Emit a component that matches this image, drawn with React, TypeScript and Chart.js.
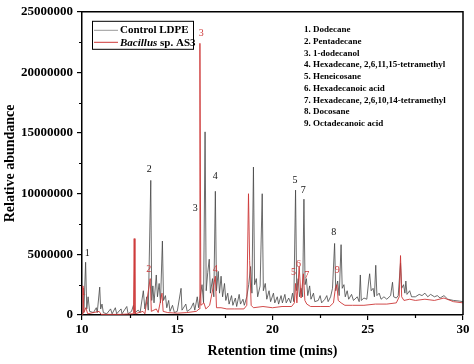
import { useEffect, useRef } from 'react';
import { Chart, registerables } from 'chart.js';

Chart.register(...registerables);

// Control LDPE chromatogram (time in minutes, abundance in millions)
const controlTime = [
  10.0, 10.1, 10.19, 10.25, 10.32, 10.4, 10.6, 10.75, 10.8, 10.93, 10.98, 11.05, 11.12, 11.3, 11.5, 11.58,
  11.75, 11.82, 12.05, 12.1, 12.35, 12.42, 12.6, 12.7, 12.78, 12.95, 13.05, 13.22, 13.3, 13.4, 13.48, 13.61,
  13.66, 13.72, 13.78, 13.9, 13.96, 14.05, 14.12, 14.22, 14.28, 14.38, 14.45, 14.55, 14.62, 14.75, 14.85, 15.0,
  15.2, 15.25, 15.45, 15.52, 15.7, 15.85, 15.92, 16.05, 16.12, 16.3, 16.38, 16.46, 16.52, 16.6, 16.68, 16.74,
  16.85, 16.92, 17.0, 17.06, 17.15, 17.22, 17.3, 17.38, 17.48, 17.55, 17.65, 17.72, 17.85, 17.92, 18.05, 18.12,
  18.25, 18.32, 18.45, 18.52, 18.65, 18.75, 18.85, 18.92, 19.0, 19.06, 19.15, 19.22, 19.35, 19.46, 19.52, 19.62,
  19.7, 19.82, 19.9, 20.05, 20.12, 20.25, 20.32, 20.45, 20.52, 20.65, 20.72, 20.85, 20.95, 21.05, 21.12, 21.21,
  21.27, 21.35, 21.42, 21.5, 21.58, 21.65, 21.71, 21.78, 21.85, 21.95, 22.02, 22.15, 22.22, 22.4, 22.5, 22.58,
  22.75, 22.85, 22.92, 23.05, 23.15, 23.26, 23.32, 23.42, 23.5, 23.6, 23.66, 23.75, 23.82, 23.92, 24.0, 24.15,
  24.25, 24.45, 24.55, 24.61, 24.66, 24.8, 24.95, 25.05, 25.1, 25.18, 25.28, 25.35, 25.42, 25.48, 25.6, 25.7,
  25.85, 26.0, 26.2, 26.3, 26.36, 26.5, 26.6, 26.72, 26.78, 26.88, 26.95, 27.0, 27.06, 27.2, 27.3, 27.5,
  27.7, 27.85, 28.0, 28.15, 28.3, 28.5, 28.65, 28.8, 29.0, 29.2, 29.5, 29.8, 30.0,
];
const controlAbund = [
  0.05, 0.3, 4.35, 0.5, 1.5, 0.3, 0.2, 0.6, 0.2, 2.3, 0.5, 0.9, 0.2, 0.1, 0.5, 0.1,
  0.6, 0.1, 0.5, 0.1, 0.7, 0.1, 0.3, 0.8, 0.2, 0.4, 0.2, 2.0, 0.5, 1.5, 0.4, 11.1,
  1.2, 2.4, 1.0, 3.3, 1.5, 2.6, 1.0, 6.1, 1.2, 1.6, 0.6, 1.2, 0.3, 0.8, 0.2, 0.3,
  2.2, 0.4, 0.9, 0.3, 0.5, 1.0, 0.4, 1.5, 0.6, 2.5, 1.0, 15.1, 2.0, 3.5, 4.6, 1.8,
  3.0, 1.5, 10.2, 2.0, 3.6, 1.8, 3.2, 1.5, 2.6, 1.2, 1.8, 0.9, 1.6, 0.8, 1.4, 0.7,
  1.7, 0.9, 1.3, 0.8, 1.5, 2.5, 4.0, 1.8, 12.2, 2.5, 3.0, 1.5, 2.4, 10.0, 2.0, 2.6,
  1.3, 2.0, 1.1, 1.8, 1.0, 1.5, 0.9, 1.6, 1.0, 1.7, 1.0, 1.4, 1.0, 1.8, 1.1, 10.3,
  2.0, 3.0, 1.5, 2.2, 1.5, 9.55, 2.5, 3.0, 1.6, 2.4, 1.3, 1.8, 1.1, 1.2, 1.6, 1.0,
  1.3, 1.6, 1.1, 1.5, 2.2, 5.9, 2.0, 2.8, 1.6, 5.8, 2.2, 2.5, 1.5, 2.0, 1.3, 1.7,
  1.2, 1.5, 1.1, 3.3, 1.2, 1.4, 1.3, 2.8, 3.4, 2.0, 2.2, 1.5, 4.1, 1.6, 1.8, 1.3,
  1.5, 1.3, 1.6, 2.7, 1.5, 1.4, 1.6, 4.3, 2.2, 2.5, 1.8, 2.8, 1.7, 2.0, 1.5, 1.5,
  1.7, 1.6, 1.8, 1.5, 1.7, 1.5, 1.6, 1.4, 1.6, 1.3, 1.2, 1.15, 1.1,
];

// Bacillus sp. AS3 chromatogram
const bacillusTime = [
  10.0, 10.05, 10.1, 10.2, 10.3, 10.9, 11.0, 12.0, 12.7, 12.74, 12.78, 13.2, 13.3, 13.58, 13.64, 13.9,
  14.0, 14.2, 14.26, 14.5, 15.0, 15.5, 16.0, 16.15, 16.19, 16.24, 16.4, 16.5, 16.7, 17.0, 17.06, 17.3,
  17.6, 18.0, 18.5, 18.65, 18.74, 18.8, 18.88, 19.0, 19.5, 20.0, 20.5, 21.0, 21.15, 21.21, 21.28, 21.4,
  21.5, 21.62, 21.7, 21.8, 22.0, 22.5, 23.0, 23.2, 23.3, 23.38, 23.45, 23.6, 23.8, 24.2, 24.8, 25.4,
  26.0, 26.5, 26.65, 26.72, 26.78, 26.9, 27.2, 27.5, 28.0, 28.5, 29.0, 29.5, 30.0,
];
const bacillusAbund = [
  0.05, 2.4, 0.2, 0.6, 0.1, 0.3, 0.05, 0.05, 0.1, 6.3, 0.1, 0.3, 0.1, 3.0, 0.3, 0.5,
  0.2, 1.8, 0.3, 0.2, 0.15, 0.2, 0.3, 0.5, 22.4, 0.8, 1.0, 0.5, 0.8, 3.2, 0.6, 0.6,
  0.5, 0.5, 0.5, 0.8, 10.0, 4.5, 0.8, 0.6, 0.7, 0.6, 0.7, 0.7, 1.0, 2.6, 1.0, 4.0,
  1.4, 3.4, 1.2, 0.9, 0.7, 0.7, 0.7, 1.0, 2.2, 2.5, 1.2, 1.0, 0.8, 0.8, 0.8, 0.9,
  0.9, 1.0, 1.5, 4.9, 1.5, 1.2, 1.3, 1.2, 1.3, 1.2, 1.4, 1.1, 1.0,
];

const xTicks = [10, 15, 20, 25, 30];
const xMinorTicks = [12.5, 17.5, 22.5, 27.5];
const yTicks = [0, 5000000, 10000000, 15000000, 20000000, 25000000];
const yMinorTicks = [2500000, 7500000, 12500000, 17500000, 22500000];

const compounds = [
  '1. Dodecane',
  '2. Pentadecane',
  '3. 1-dodecanol',
  '4. Hexadecane, 2,6,11,15-tetramethyl',
  '5. Heneicosane',
  '6. Hexadecanoic acid',
  '7. Hexadecane, 2,6,10,14-tetramethyl',
  '8. Docosane',
  '9. Octadecanoic acid',
];

const controlPeakLabels = ['1', '2', '3', '4', '5', '7', '8'];
const controlPeakTime = [10.28, 13.53, 15.95, 17.0, 21.18, 21.62, 23.22];
const controlPeakAbund = [5.1, 12.0, 8.8, 11.4, 11.1, 10.3, 6.8];

const bacillusPeakLabels = ['1', '2', '3', '4', '5', '6', '7', '9'];
const bacillusPeakTime = [10.08, 13.5, 16.26, 17.0, 21.1, 21.37, 21.8, 23.4];
const bacillusPeakAbund = [1.9, 3.8, 23.2, 3.8, 3.5, 4.2, 3.3, 3.7];

const MILLION = 1000000;
const SERIF = '"Liberation Serif", "Times New Roman", serif';
const GRAY = 'rgb(70,70,70)';
const RED = 'rgb(205,55,55)';

const overlay = {
  id: 'overlay',
  afterDraw(chart: any) {
    const { ctx, chartArea, scales } = chart;
    const xs = scales.x;
    const ys = scales.y;
    ctx.save();
    // frame top and right
    ctx.strokeStyle = '#000';
    ctx.lineWidth = 1.5;
    ctx.beginPath();
    ctx.moveTo(chartArea.left, chartArea.top);
    ctx.lineTo(chartArea.right, chartArea.top);
    ctx.lineTo(chartArea.right, chartArea.bottom);
    ctx.stroke();
    // minor ticks
    ctx.lineWidth = 1.2;
    ctx.beginPath();
    yMinorTicks.forEach((v) => {
      const y = Math.round(ys.getPixelForValue(v)) + 0.5;
      ctx.moveTo(chartArea.left - 3, y);
      ctx.lineTo(chartArea.left, y);
    });
    xMinorTicks.forEach((v) => {
      const x = Math.round(xs.getPixelForValue(v)) + 0.5;
      ctx.moveTo(x, chartArea.bottom);
      ctx.lineTo(x, chartArea.bottom + 3);
    });
    ctx.stroke();

    // peak labels
    ctx.font = `10px ${SERIF}`;
    ctx.textAlign = 'center';
    ctx.textBaseline = 'middle';
    ctx.fillStyle = '#111';
    controlPeakLabels.forEach((t, i) => {
      ctx.fillText(t, xs.getPixelForValue(controlPeakTime[i]), ys.getPixelForValue(controlPeakAbund[i] * MILLION));
    });
    ctx.fillStyle = RED;
    bacillusPeakLabels.forEach((t, i) => {
      ctx.fillText(t, xs.getPixelForValue(bacillusPeakTime[i]), ys.getPixelForValue(bacillusPeakAbund[i] * MILLION));
    });

    // legend box
    const lx = chartArea.left + 10;
    const ly = chartArea.top + 9;
    ctx.strokeStyle = '#000';
    ctx.lineWidth = 1;
    ctx.strokeRect(lx + 0.5, ly + 0.5, 101, 28);
    ctx.lineWidth = 1;
    ctx.strokeStyle = '#999';
    ctx.beginPath();
    ctx.moveTo(lx + 2, ly + 9.5);
    ctx.lineTo(lx + 26, ly + 9.5);
    ctx.stroke();
    ctx.strokeStyle = RED;
    ctx.beginPath();
    ctx.moveTo(lx + 2, ly + 21.5);
    ctx.lineTo(lx + 26, ly + 21.5);
    ctx.stroke();
    ctx.fillStyle = '#000';
    ctx.textAlign = 'left';
    ctx.textBaseline = 'middle';
    ctx.font = `bold 11px ${SERIF}`;
    ctx.fillText('Control LDPE', lx + 28, ly + 9.5);
    ctx.font = `italic bold 11px ${SERIF}`;
    ctx.fillText('Bacillus', lx + 28, ly + 22);
    const w = ctx.measureText('Bacillus').width;
    ctx.font = `bold 11px ${SERIF}`;
    ctx.fillText(' sp. AS3', lx + 28 + w, ly + 22);

    // compound list
    ctx.font = `bold 9px ${SERIF}`;
    compounds.forEach((c, i) => {
      ctx.fillText(c, 304, 30 + i * 11.7);
    });
    ctx.restore();
  },
};

export default function App() {
  const ref = useRef<HTMLCanvasElement | null>(null);
  useEffect(() => {
    if (!ref.current) return;
    const tickFont = { family: SERIF, size: 13, weight: 'bold' as const };
    const chart = new Chart(ref.current, {
      type: 'line',
      data: {
        datasets: [
          {
            label: 'Bacillus sp. AS3',
            data: bacillusTime.map((t, i) => ({ x: t, y: bacillusAbund[i] * MILLION })),
            borderColor: RED,
            borderWidth: 0.9,
            pointRadius: 0,
            fill: false,
            tension: 0,
          },
          {
            label: 'Control LDPE',
            data: controlTime.map((t, i) => ({ x: t, y: controlAbund[i] * MILLION })),
            borderColor: GRAY,
            borderWidth: 0.8,
            pointRadius: 0,
            fill: false,
            tension: 0,
          },
        ],
      },
      options: {
        animation: false,
        responsive: false,
        maintainAspectRatio: false,
        layout: { padding: { left: 0, top: 9, right: 11, bottom: 0 } },
        plugins: { legend: { display: false }, tooltip: { enabled: false } },
        scales: {
          x: {
            type: 'linear',
            min: 10,
            max: 30,
            afterBuildTicks: (s: any) => {
              s.ticks = xTicks.map((v) => ({ value: v }));
            },
            afterFit: (s: any) => {
              s.height = 49;
            },
            ticks: { font: tickFont, color: '#000', padding: 2, maxRotation: 0, autoSkip: false, callback: (v: any) => String(v) },
            grid: { display: true, drawOnChartArea: false, drawTicks: true, tickLength: 5, color: '#000', lineWidth: 1.2 },
            border: { display: true, color: '#000', width: 1.5 },
            title: {
              display: true,
              text: 'Retention time (mins)',
              font: { family: SERIF, size: 14, weight: 'bold' },
              color: '#000',
              padding: { top: 0, bottom: 4 },
            },
          },
          y: {
            type: 'linear',
            min: 0,
            max: 25000000,
            afterBuildTicks: (s: any) => {
              s.ticks = yTicks.map((v) => ({ value: v }));
            },
            afterFit: (s: any) => {
              s.width = 82;
            },
            ticks: { font: tickFont, color: '#000', padding: 4, autoSkip: false, callback: (v: any) => String(v) },
            grid: { display: true, drawOnChartArea: false, drawTicks: true, tickLength: 5, color: '#000', lineWidth: 1.2 },
            border: { display: true, color: '#000', width: 1.5 },
            title: {
              display: true,
              text: 'Relative abundance',
              font: { family: SERIF, size: 14, weight: 'bold' },
              color: '#000',
              padding: { top: 2, bottom: 0 },
            },
          },
        },
      },
      plugins: [overlay],
    });
    return () => chart.destroy();
  }, []);
  return (
    <div style={{ position: 'absolute', left: 0, top: 0, width: 474, height: 364, background: '#fff' }}>
      <canvas ref={ref} width={474} height={364} style={{ display: 'block' }} />
    </div>
  );
}
